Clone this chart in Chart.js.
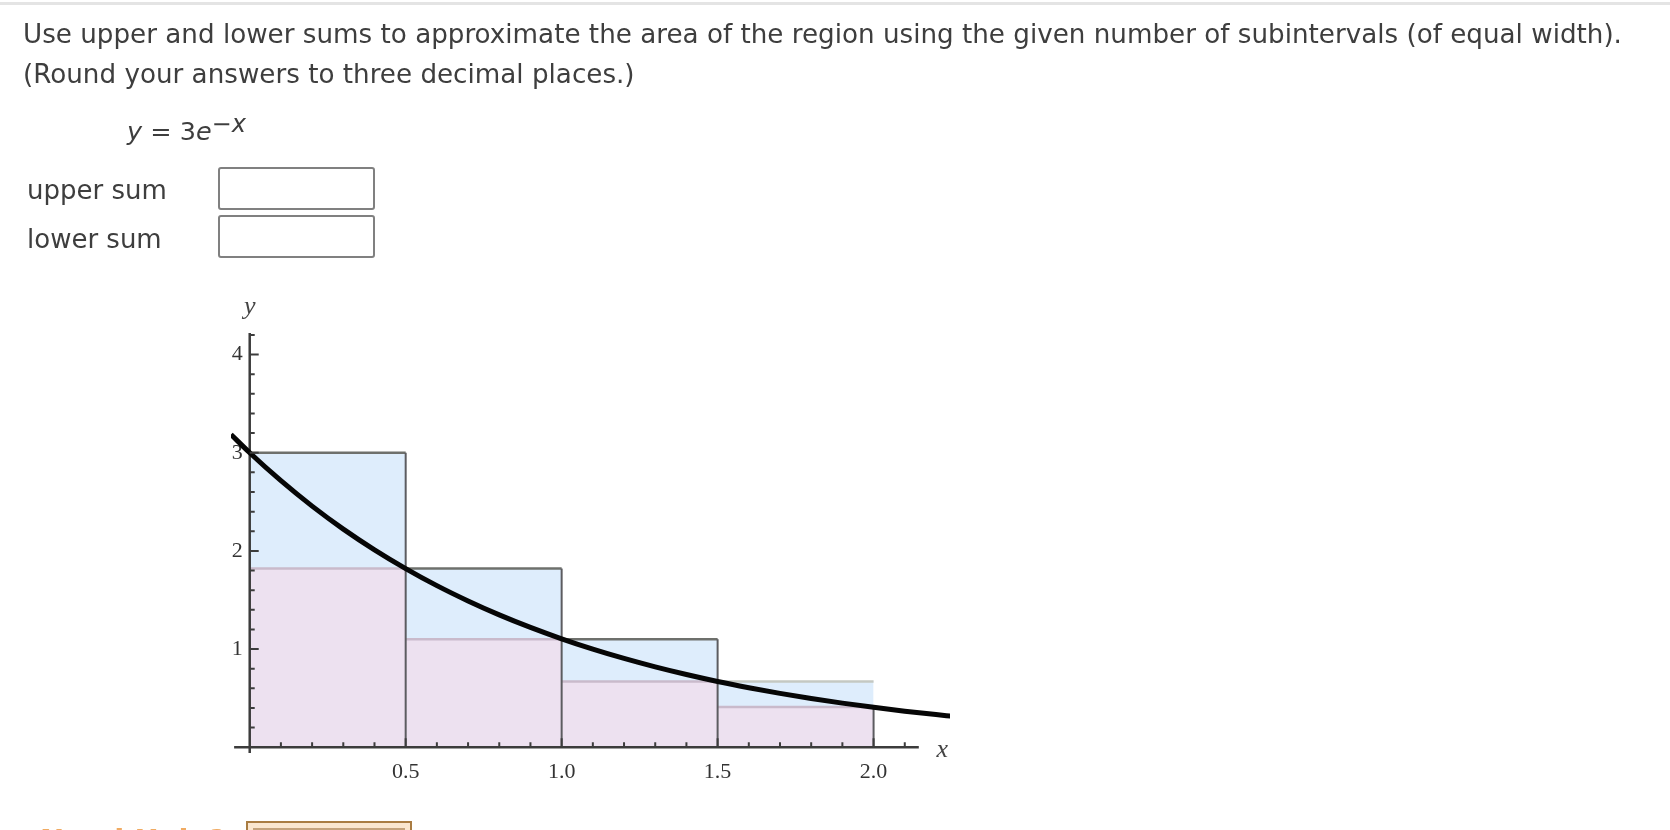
<!DOCTYPE html>
<html>
<head>
<meta charset="utf-8">
<title>Upper and lower sums</title>
<script src="https://cdn.jsdelivr.net/npm/chart.js@4"></script>
<style>
    html, body { margin: 0; padding: 0; width: 1670px; height: 830px; overflow: hidden; background: #fff; }
    body { font-family: "DejaVu Sans", sans-serif; color: #3e3e3e; position: relative; }
    .topline { position: absolute; left: 0; top: 2px; width: 1670px; height: 3px; background: #e4e4e4; }
    .txt { position: absolute; white-space: nowrap; font-size: 26.2px; line-height: 30px; filter: blur(0.3px); }
    .box { position: absolute; left: 218px; width: 153px; height: 39px; border: 2px solid #808080; border-radius: 3px; background: #fff; }
    .help { position: absolute; left: 40px; top: 825px; font-size: 29px; line-height: 30px; font-weight: bold; color: #f0ab63; white-space: nowrap; filter: blur(0.6px); }
    .button { position: absolute; left: 246px; top: 821px; width: 162px; height: 30px; border: 2px solid #a97c42; background: #fae6cf; }
    .button div { margin: 5px; height: 20px; border: 2px solid #c4a27c; }
    sup { font-size: 24px; line-height: 0; position: relative; top: 1px; vertical-align: super; }
    #sums-chart { position: absolute; left: 0; top: 0; filter: blur(0.6px); }
</style>
</head>
<body>
<div class="topline"></div>
<div class="txt" style="left:23px;top:19px">Use upper and lower sums to approximate the area of the region using the given number of subintervals (of equal width).</div>
<div class="txt" style="left:23px;top:59px">(Round your answers to three decimal places.)</div>
<div class="txt" style="left:127px;top:116px;font-size:25.5px"><i>y</i> = 3<i>e</i><sup>−<i>x</i></sup></div>
<div class="txt" style="left:27px;top:175px;font-size:26px">upper sum</div>
<div class="box" style="top:167px"></div>
<div class="txt" style="left:27px;top:224px;font-size:26px">lower sum</div>
<div class="box" style="top:215px"></div>
<div class="help">Need Help?</div>
<div class="button"><div></div></div>
<canvas id="sums-chart" width="1670" height="830"></canvas>

<script>
const breaks = [0, 0.5, 1.0, 1.5, 2.0];
const upperHeights = [3.0, 1.82, 1.10, 0.67];
const lowerHeights = [1.82, 1.10, 0.67, 0.41];

const curveX = [-0.06, 0, 0.1, 0.2, 0.3, 0.4, 0.5, 0.6, 0.7, 0.8, 0.9, 1.0, 1.1, 1.2, 1.3, 1.4, 1.5, 1.6, 1.7, 1.8, 1.9, 2.0, 2.1, 2.2, 2.25];
const curveY = [3.186, 3.0, 2.715, 2.456, 2.222, 2.011, 1.82, 1.646, 1.49, 1.348, 1.22, 1.104, 0.999, 0.904, 0.818, 0.74, 0.669, 0.606, 0.548, 0.496, 0.449, 0.406, 0.367, 0.332, 0.316];

const xTickValues = [0.5, 1.0, 1.5, 2.0];
const yTickValues = [1, 2, 3, 4];
const xMinorTicks = [0.1, 0.2, 0.3, 0.4, 0.6, 0.7, 0.8, 0.9, 1.1, 1.2, 1.3, 1.4, 1.6, 1.7, 1.8, 1.9, 2.1];
const yMinorTicks = [0.2, 0.4, 0.6, 0.8, 1.2, 1.4, 1.6, 1.8, 2.2, 2.4, 2.6, 2.8, 3.2, 3.4, 3.6, 3.8, 4.2];
const xAxisEnds = [-0.05, 2.145];
const yAxisEnds = [-0.06, 4.22];

function edge(points, color, width) {
    return {
        data: points.map(p => ({ x: p[0], y: p[1] })),
        borderColor: color,
        borderWidth: width,
        pointRadius: 0,
        fill: false
    };
}

function rectFill(i, heights, color) {
    return {
        data: [{ x: breaks[i], y: heights[i] }, { x: breaks[i + 1], y: heights[i] }],
        borderWidth: 0,
        pointRadius: 0,
        backgroundColor: color,
        fill: 'origin'
    };
}

// pierwszy dataset rysuje się na samej górze
function buildDatasets() {
    const sets = [];
    sets.push({
        data: curveX.map((x, i) => ({ x: x, y: curveY[i] })),
        borderColor: '#060606',
        borderWidth: 5,
        pointRadius: 0,
        cubicInterpolationMode: 'monotone',
        fill: false
    });
    sets.push(edge(xAxisEnds.map(x => [x, 0]), '#3c3c3c', 2.5));
    sets.push(edge(yAxisEnds.map(y => [0, y]), '#3c3c3c', 2.5));
    for (let i = 1; i < breaks.length; i++) {
        const top = i === breaks.length - 1 ? lowerHeights[i - 1] : upperHeights[i - 1];
        sets.push(edge([[breaks[i], 0], [breaks[i], top]], '#5c5c60', 2));
    }
    upperHeights.forEach((h, i) => {
        const color = i === upperHeights.length - 1 ? '#c4c8c2' : '#6e706c';
        sets.push(edge([[breaks[i], h], [breaks[i + 1], h]], color, 2.5));
    });
    lowerHeights.forEach((h, i) => {
        sets.push(edge([[breaks[i], h], [breaks[i + 1], h]], '#c9bacb', 2.5));
    });
    breaks.slice(0, -1).forEach((b, i) => sets.push(rectFill(i, lowerHeights, '#ede1f0')));
    breaks.slice(0, -1).forEach((b, i) => sets.push(rectFill(i, upperHeights, '#deedfc')));
    return sets;
}

// krótkie kreski podziałki i litery osi
const axisMarks = {
    id: 'axisMarks',
    afterDatasetsDraw(chart) {
        const ctx = chart.ctx;
        const xs = chart.scales.x;
        const ys = chart.scales.y;
        const x0 = xs.getPixelForValue(0);
        const y0 = ys.getPixelForValue(0);
        ctx.save();
        ctx.strokeStyle = '#3c3c3c';
        ctx.lineWidth = 2;
        ctx.beginPath();
        xMinorTicks.forEach(v => { const px = xs.getPixelForValue(v); ctx.moveTo(px, y0); ctx.lineTo(px, y0 - 5); });
        xTickValues.forEach(v => { const px = xs.getPixelForValue(v); ctx.moveTo(px, y0); ctx.lineTo(px, y0 - 9); });
        yMinorTicks.forEach(v => { const py = ys.getPixelForValue(v); ctx.moveTo(x0, py); ctx.lineTo(x0 + 5, py); });
        yTickValues.forEach(v => { const py = ys.getPixelForValue(v); ctx.moveTo(x0, py); ctx.lineTo(x0 + 9, py); });
        ctx.stroke();
        ctx.fillStyle = '#444';
        ctx.font = 'italic 26px "Liberation Serif"';
        ctx.textAlign = 'center';
        ctx.textBaseline = 'middle';
        ctx.fillText('y', x0, ys.getPixelForValue(4.48));
        ctx.fillText('x', xs.getPixelForValue(2.22), y0 + 3);
        ctx.restore();
    }
};

function buildSumsChart(container) {
    const tickFont = { family: '"Liberation Serif"', size: 22 };
    const config = {
        type: 'line',
        data: { datasets: buildDatasets() },
        options: {
            responsive: false,
            animation: false,
            layout: { padding: { left: 231, right: 720, top: 333, bottom: 73 } },
            plugins: { legend: { display: false }, tooltip: { enabled: false } },
            scales: {
                x: {
                    type: 'linear',
                    position: { y: 0 },
                    min: -0.06,
                    max: 2.245,
                    grid: { display: false, drawTicks: false },
                    border: { display: false },
                    afterBuildTicks: axis => { axis.ticks = xTickValues.map(v => ({ value: v })); },
                    afterFit: axis => { axis.height = 0; },
                    ticks: {
                        autoSkip: false,
                        maxRotation: 0,
                        padding: 12,
                        color: '#333',
                        font: tickFont,
                        callback: v => v.toFixed(1)
                    }
                },
                y: {
                    type: 'linear',
                    position: { x: -0.022 },
                    min: -0.1,
                    max: 4.22,
                    grid: { display: false, drawTicks: false },
                    border: { display: false },
                    afterBuildTicks: axis => { axis.ticks = yTickValues.map(v => ({ value: v })); },
                    afterFit: axis => { axis.width = 0; },
                    ticks: {
                        autoSkip: false,
                        padding: 8,
                        color: '#333',
                        font: tickFont
                    }
                }
            }
        },
        plugins: [axisMarks]
    };

    new Chart(container, config);
}

addEventListener("DOMContentLoaded", () => {
    buildSumsChart(document.getElementById('sums-chart'));
});
</script>
</body>
</html>
